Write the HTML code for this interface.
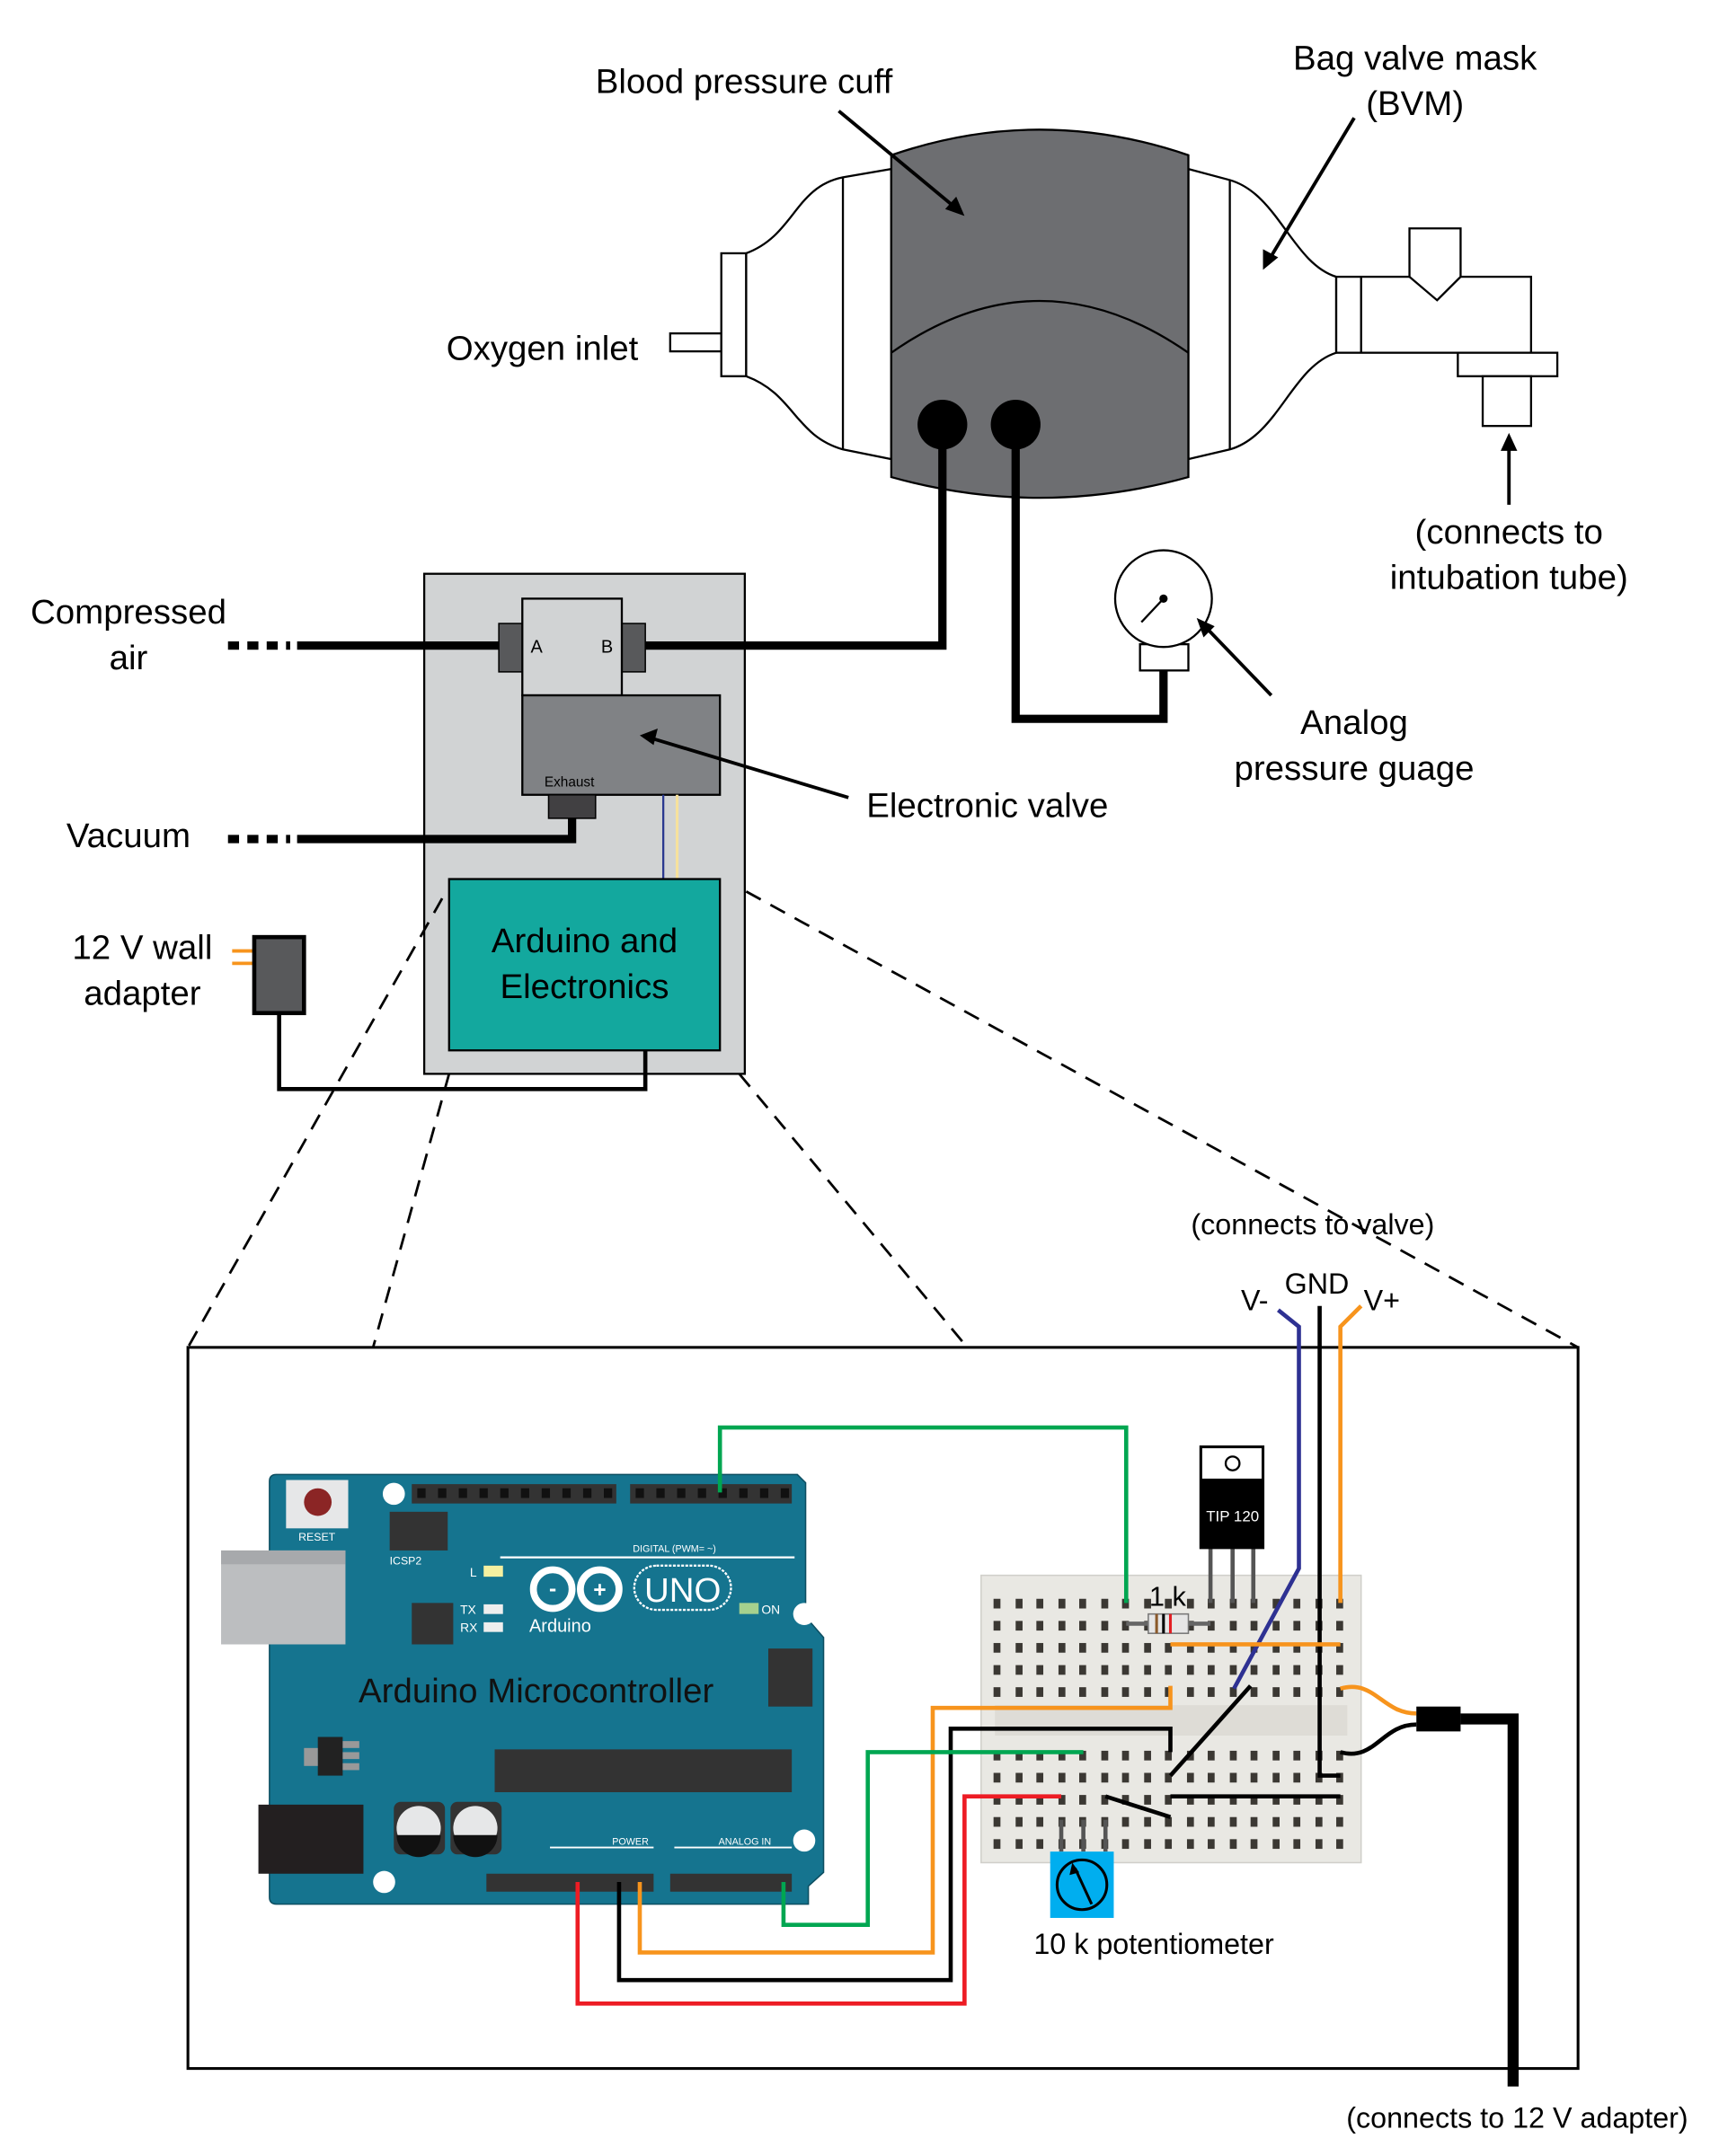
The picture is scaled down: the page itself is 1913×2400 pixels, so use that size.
<!DOCTYPE html>
<html><head><meta charset="utf-8"><style>
html,body{margin:0;padding:0;background:#fff}
svg{display:block}
text{font-family:"Liberation Sans",sans-serif}
</style></head><body>
<svg width="1913" height="2400" viewBox="0 0 1244 1560" xmlns="http://www.w3.org/2000/svg">
<!-- BVM -->
<rect x="485" y="241" width="37" height="13" fill="#fff" stroke="#000" stroke-width="1.5"/>
<rect x="522" y="183" width="18" height="89" fill="#fff" stroke="#000" stroke-width="1.5"/>
<path d="M540,183 C575,170 575,135 610,128 L645,122 L645,332 L610,325 C575,315 575,285 540,272 Z" fill="#fff" stroke="#000" stroke-width="1.5"/>
<line x1="610" y1="128" x2="610" y2="325" stroke="#000" stroke-width="1.5"/>
<path d="M860,122 L890,130 C925,140 935,190 967,200 L967,255 C935,265 925,315 890,325 L860,332 Z" fill="#fff" stroke="#000" stroke-width="1.5"/>
<line x1="890" y1="130" x2="890" y2="325" stroke="#000" stroke-width="1.5"/>
<path d="M645,112 Q752,75 860,112 L860,345 Q752,375 645,345 Z" fill="#6d6e71" stroke="#000" stroke-width="1.5"/>
<path d="M645,255 Q752,180 860,255" fill="none" stroke="#000" stroke-width="1.5"/>
<rect x="967" y="200" width="141" height="55" fill="#fff" stroke="#000" stroke-width="1.5"/>
<line x1="985" y1="200" x2="985" y2="255" stroke="#000" stroke-width="1.5"/>
<path d="M1020,165 L1057,165 L1057,200 L1040,217 L1020,200 Z" fill="#fff" stroke="#000" stroke-width="1.5"/>
<rect x="1055" y="255" width="72" height="17" fill="#fff" stroke="#000" stroke-width="1.5"/>
<rect x="1073" y="272" width="35" height="36" fill="#fff" stroke="#000" stroke-width="1.5"/>
<!-- box -->
<rect x="307" y="415" width="232" height="362" fill="#d1d3d4" stroke="#000" stroke-width="1.5"/>
<!-- tubes -->
<g stroke="#000" stroke-width="6" fill="none">
<polyline points="682,307 682,467 467,467"/>
<polyline points="735,307 735,520 842,520 842,485"/>
<line x1="215" y1="467" x2="361" y2="467"/>
<polyline points="215,607 414,607 414,592"/>
<line x1="165" y1="467" x2="210" y2="467" stroke-dasharray="8,6"/>
<line x1="165" y1="607" x2="210" y2="607" stroke-dasharray="8,6"/>
</g>
<circle cx="682" cy="307" r="18" fill="#000"/>
<circle cx="735" cy="307" r="18" fill="#000"/>
<!-- gauge -->
<rect x="825" y="466" width="35" height="19" fill="#fff" stroke="#000" stroke-width="1.5"/>
<circle cx="842" cy="433" r="35" fill="#fff" stroke="#000" stroke-width="1.5"/>
<line x1="842" y1="433" x2="826" y2="450" stroke="#000" stroke-width="1.5"/>
<circle cx="842" cy="433" r="3" fill="#000"/>
<rect x="361" y="451" width="17" height="35" fill="#58595b" stroke="#000"/>
<rect x="450" y="451" width="17" height="35" fill="#58595b" stroke="#000"/>
<rect x="378" y="433" width="72" height="70" fill="#d1d3d4" stroke="#000" stroke-width="1.5"/>
<text x="384" y="472" font-size="13">A</text><text x="435" y="472" font-size="13">B</text>
<rect x="378" y="503" width="143" height="72" fill="#808285" stroke="#000" stroke-width="1.5"/>
<text x="394" y="569" font-size="10">Exhaust</text>
<rect x="397" y="575" width="34" height="17" fill="#414042" stroke="#000"/>
<line x1="480" y1="575" x2="480" y2="636" stroke="#2b3990" stroke-width="1.5"/>
<line x1="490" y1="575" x2="490" y2="636" stroke="#f7e19c" stroke-width="2"/>
<rect x="325" y="636" width="196" height="124" fill="#13a89e" stroke="#000" stroke-width="1.5"/>
<text x="423" y="689" font-size="25" text-anchor="middle">Arduino and</text>
<text x="423" y="722" font-size="25" text-anchor="middle">Electronics</text>
<!-- arrows -->
<g stroke="#000" stroke-width="2.5" fill="none">
<line x1="607" y1="80" x2="695" y2="153"/>
<line x1="980" y1="85" x2="917" y2="190"/>
<line x1="1092" y1="365" x2="1092" y2="318"/>
<line x1="920" y1="503" x2="870" y2="451"/>
<line x1="614" y1="577" x2="468" y2="533"/>
</g>
<g fill="#000">
<path d="M698,156 L684,151 L692,142 Z"/>
<path d="M914,195 L914,180 L925,186 Z"/>
<path d="M1092,313 L1086,326 L1098,326 Z"/>
<path d="M866,447 L871,461 L879,453 Z"/>
<path d="M463,532 L476,527 L473,539 Z"/>
</g>
<!-- adapter -->
<line x1="168" y1="688" x2="184" y2="688" stroke="#f7941d" stroke-width="2.5"/>
<line x1="168" y1="697" x2="184" y2="697" stroke="#f7941d" stroke-width="2.5"/>
<rect x="184" y="678" width="36" height="55" fill="#58595b" stroke="#000" stroke-width="3"/>
<polyline points="202,733 202,788 467,788 467,760" fill="none" stroke="#000" stroke-width="3"/>
<!-- labels top -->
<g font-size="25" fill="#000">
<text x="431" y="67">Blood pressure cuff</text>
<text x="1024" y="50" text-anchor="middle">Bag valve mask</text>
<text x="1024" y="83" text-anchor="middle">(BVM)</text>
<text x="323" y="260">Oxygen inlet</text>
<text x="1092" y="393" text-anchor="middle">(connects to</text>
<text x="1092" y="426" text-anchor="middle">intubation tube)</text>
<text x="93" y="451" text-anchor="middle">Compressed</text>
<text x="93" y="484" text-anchor="middle">air</text>
<text x="980" y="531" text-anchor="middle">Analog</text>
<text x="980" y="564" text-anchor="middle">pressure guage</text>
<text x="627" y="591">Electronic valve</text>
<text x="48" y="613">Vacuum</text>
<text x="103" y="694" text-anchor="middle">12 V wall</text>
<text x="103" y="727" text-anchor="middle">adapter</text>
</g>
<!-- dashed -->
<g stroke="#000" stroke-width="1.8" stroke-dasharray="12,8" fill="none">
<line x1="320" y1="650" x2="136" y2="975"/>
<line x1="325" y1="777" x2="270" y2="975"/>
<line x1="535" y1="777" x2="700" y2="975"/>
<line x1="540" y1="645" x2="1142" y2="975"/>
</g>
<rect x="136" y="975" width="1006" height="522" fill="none" stroke="#000" stroke-width="2"/>
<!-- Arduino board -->
<path d="M200,1067 L577,1067 L583,1073 L583,1170 L596,1185 L596,1355 L585,1365 L585,1378 L200,1378 Q195,1378 195,1373 L195,1072 Q195,1067 200,1067 Z" fill="#15748f" stroke="#0c4e61" stroke-width="1"/>
<rect x="160" y="1122" width="90" height="68" fill="#bcbec0"/>
<rect x="160" y="1122" width="90" height="10" fill="#a7a9ac"/>
<rect x="187" y="1306" width="76" height="50" fill="#231f20"/>
<rect x="207" y="1071" width="45" height="35" fill="#e6e7e8"/>
<circle cx="230" cy="1087" r="10" fill="#8b2525"/>
<text x="216" y="1115" font-size="8" fill="#fff">RESET</text>
<circle cx="285" cy="1081" r="8" fill="#fff"/>
<circle cx="278" cy="1362" r="8" fill="#fff"/>
<circle cx="582" cy="1168" r="8" fill="#fff"/>
<circle cx="582" cy="1332" r="8" fill="#fff"/>
<rect x="298" y="1074" width="148" height="14" fill="#333"/>
<rect x="456" y="1074" width="117" height="14" fill="#333"/>
<rect x="352" y="1356" width="121" height="13" fill="#333"/>
<rect x="485" y="1356" width="88" height="13" fill="#333"/>
<g fill="#111">
<rect x="302" y="1077" width="6" height="7"/><rect x="317" y="1077" width="6" height="7"/><rect x="332" y="1077" width="6" height="7"/><rect x="347" y="1077" width="6" height="7"/><rect x="362" y="1077" width="6" height="7"/><rect x="377" y="1077" width="6" height="7"/><rect x="392" y="1077" width="6" height="7"/><rect x="407" y="1077" width="6" height="7"/><rect x="422" y="1077" width="6" height="7"/><rect x="437" y="1077" width="6" height="7"/>
<rect x="460" y="1077" width="6" height="7"/><rect x="475" y="1077" width="6" height="7"/><rect x="490" y="1077" width="6" height="7"/><rect x="505" y="1077" width="6" height="7"/><rect x="520" y="1077" width="6" height="7"/><rect x="535" y="1077" width="6" height="7"/><rect x="550" y="1077" width="6" height="7"/><rect x="565" y="1077" width="6" height="7"/>
</g>
<rect x="282" y="1094" width="42" height="28" fill="#333"/>
<text x="282" y="1132" font-size="8" fill="#fff">ICSP2</text>
<rect x="556" y="1193" width="32" height="42" fill="#333"/>
<rect x="298" y="1160" width="30" height="30" fill="#333"/>
<rect x="350" y="1133" width="14" height="8" fill="#f5f0a0"/><text x="340" y="1141" font-size="9" fill="#fff">L</text>
<rect x="350" y="1161" width="14" height="7" fill="#eee"/><text x="333" y="1168" font-size="9" fill="#fff">TX</text>
<rect x="350" y="1174" width="14" height="7" fill="#eee"/><text x="333" y="1181" font-size="9" fill="#fff">RX</text>
<rect x="535" y="1160" width="14" height="8" fill="#a6d18e"/><text x="551" y="1168" font-size="9" fill="#fff">ON</text>
<line x1="362" y1="1127" x2="575" y2="1127" stroke="#fff" stroke-width="1.5"/>
<text x="458" y="1123" font-size="7" fill="#fff">DIGITAL (PWM=  ~)</text>
<circle cx="400" cy="1150" r="14" fill="none" stroke="#fff" stroke-width="5"/>
<circle cx="434" cy="1150" r="14" fill="none" stroke="#fff" stroke-width="5"/>
<text x="400" y="1155" font-size="16" fill="#fff" text-anchor="middle" font-weight="bold">-</text>
<text x="434" y="1156" font-size="16" fill="#fff" text-anchor="middle" font-weight="bold">+</text>
<rect x="459" y="1133" width="70" height="32" rx="16" fill="none" stroke="#fff" stroke-width="1.5" stroke-dasharray="2,1"/>
<text x="494" y="1159" font-size="25" fill="#fff" text-anchor="middle">UNO</text>
<text x="383" y="1181" font-size="13" fill="#fff">Arduino</text>
<text x="388" y="1232" font-size="25" fill="#111" text-anchor="middle">Arduino Microcontroller</text>
<rect x="230" y="1257" width="18" height="28" fill="#222"/><rect x="220" y="1265" width="10" height="13" fill="#999"/>
<rect x="248" y="1260" width="12" height="5" fill="#999"/><rect x="248" y="1268" width="12" height="5" fill="#999"/><rect x="248" y="1276" width="12" height="5" fill="#999"/>
<rect x="358" y="1266" width="215" height="31" fill="#333"/>
<rect x="285" y="1304" width="37" height="38" rx="5" fill="#333"/><circle cx="303" cy="1323" r="16" fill="#e6e7e8"/><path d="M287,1328 A16,16 0 0 0 319,1328 Z" fill="#111"/>
<rect x="326" y="1304" width="37" height="38" rx="5" fill="#333"/><circle cx="344" cy="1323" r="16" fill="#e6e7e8"/><path d="M328,1328 A16,16 0 0 0 360,1328 Z" fill="#111"/>
<line x1="398" y1="1337" x2="473" y2="1337" stroke="#fff" stroke-width="1.2"/>
<line x1="488" y1="1337" x2="573" y2="1337" stroke="#fff" stroke-width="1.2"/>
<text x="443" y="1335" font-size="7" fill="#fff">POWER</text>
<text x="520" y="1335" font-size="7" fill="#fff">ANALOG IN</text>
<!-- breadboard -->
<rect x="710" y="1140" width="275" height="208" fill="#e9e8e3" stroke="#d0cfca"/>
<rect x="720" y="1234" width="255" height="22" fill="#dedcd6"/>
<g id="row">
<g fill="#3b3833">
<rect x="719" y="1157" width="5" height="7"/><rect x="735" y="1157" width="5" height="7"/><rect x="750" y="1157" width="5" height="7"/><rect x="766" y="1157" width="5" height="7"/><rect x="781" y="1157" width="5" height="7"/><rect x="797" y="1157" width="5" height="7"/><rect x="812" y="1157" width="5" height="7"/><rect x="828" y="1157" width="5" height="7"/><rect x="843" y="1157" width="5" height="7"/><rect x="859" y="1157" width="5" height="7"/><rect x="874" y="1157" width="5" height="7"/><rect x="890" y="1157" width="5" height="7"/><rect x="905" y="1157" width="5" height="7"/><rect x="921" y="1157" width="5" height="7"/><rect x="936" y="1157" width="5" height="7"/><rect x="952" y="1157" width="5" height="7"/><rect x="967" y="1157" width="5" height="7"/>
</g></g>
<use href="#row" y="16"/><use href="#row" y="32"/><use href="#row" y="48"/><use href="#row" y="64"/>
<use href="#row" y="110"/><use href="#row" y="126"/><use href="#row" y="142"/><use href="#row" y="158"/><use href="#row" y="174"/>
<!-- TIP120 -->
<line x1="876" y1="1118" x2="876" y2="1160" stroke="#555" stroke-width="3"/>
<line x1="892" y1="1118" x2="892" y2="1160" stroke="#555" stroke-width="3"/>
<line x1="907" y1="1118" x2="907" y2="1160" stroke="#555" stroke-width="3"/>
<rect x="868" y="1046" width="47" height="75" fill="#000"/>
<rect x="870" y="1048" width="43" height="22" fill="#fff"/>
<circle cx="892" cy="1059" r="5" fill="none" stroke="#000" stroke-width="1.5"/>
<text x="892" y="1101" font-size="11" fill="#fff" text-anchor="middle">TIP 120</text>
<!-- resistor -->
<line x1="815" y1="1175" x2="876" y2="1175" stroke="#666" stroke-width="3"/>
<rect x="831" y="1168" width="29" height="14" fill="#e6e6e6" stroke="#777"/>
<line x1="837" y1="1168" x2="837" y2="1182" stroke="#8b5a2b" stroke-width="2"/>
<line x1="842" y1="1168" x2="842" y2="1182" stroke="#000" stroke-width="2"/>
<line x1="847" y1="1168" x2="847" y2="1182" stroke="#e31e24" stroke-width="2"/>
<text x="845" y="1162" font-size="20" text-anchor="middle">1 k</text>
<!-- wires -->
<g fill="none" stroke-width="3" stroke-linejoin="miter">
<polyline points="521,1080 521,1033 815,1033 815,1160" stroke="#00a651"/>
<polyline points="925,948 940,960 940,1135 893,1222" stroke="#2e3192"/>
<polyline points="955,945 955,1285 970,1285" stroke="#000"/>
<polyline points="985,945 970,960 970,1160" stroke="#f7941d"/>
<line x1="847" y1="1190" x2="970" y2="1190" stroke="#f7941d"/>
<polyline points="847,1220 847,1236 675,1236 675,1413 463,1413 463,1362" stroke="#f7941d"/>
<polyline points="847,1268 847,1251 688,1251 688,1433 448,1433 448,1362" stroke="#000"/>
<polyline points="784,1268 628,1268 628,1393 567,1393 567,1362" stroke="#00a651"/>
<polyline points="768,1300 698,1300 698,1450 418,1450 418,1362" stroke="#ed1c24"/>
<line x1="847" y1="1285" x2="905" y2="1220" stroke="#000"/>
<line x1="847" y1="1300" x2="970" y2="1300" stroke="#000"/>
<line x1="800" y1="1300" x2="847" y2="1315" stroke="#000"/>
<path d="M970,1222 C995,1215 1000,1240 1025,1240" stroke="#f7941d"/>
<path d="M970,1268 C995,1275 1000,1248 1025,1248" stroke="#000"/>
<polyline points="1057,1244 1095,1244 1095,1510" stroke="#000" stroke-width="8"/>
</g>
<rect x="1025" y="1235" width="32" height="18" fill="#000"/>
<!-- pot -->
<line x1="768" y1="1317" x2="768" y2="1340" stroke="#555" stroke-width="3"/>
<line x1="784" y1="1317" x2="784" y2="1340" stroke="#555" stroke-width="3"/>
<line x1="800" y1="1317" x2="800" y2="1340" stroke="#555" stroke-width="3"/>
<rect x="760" y="1340" width="46" height="48" fill="#00aeef"/>
<circle cx="783" cy="1364" r="18" fill="none" stroke="#000" stroke-width="2"/>
<line x1="790" y1="1378" x2="778" y2="1352" stroke="#000" stroke-width="2"/>
<path d="M776,1348 L774,1357 L781,1355 Z" fill="#000"/>
<g font-size="21">
<text x="835" y="1414" text-anchor="middle">10 k potentiometer</text>
<text x="950" y="893" text-anchor="middle">(connects to valve)</text>
<text x="908" y="948" text-anchor="middle">V-</text>
<text x="953" y="936" text-anchor="middle">GND</text>
<text x="1000" y="948" text-anchor="middle">V+</text>
<text x="1098" y="1540" text-anchor="middle">(connects to 12 V adapter)</text>
</g>
</svg>
</body></html>
